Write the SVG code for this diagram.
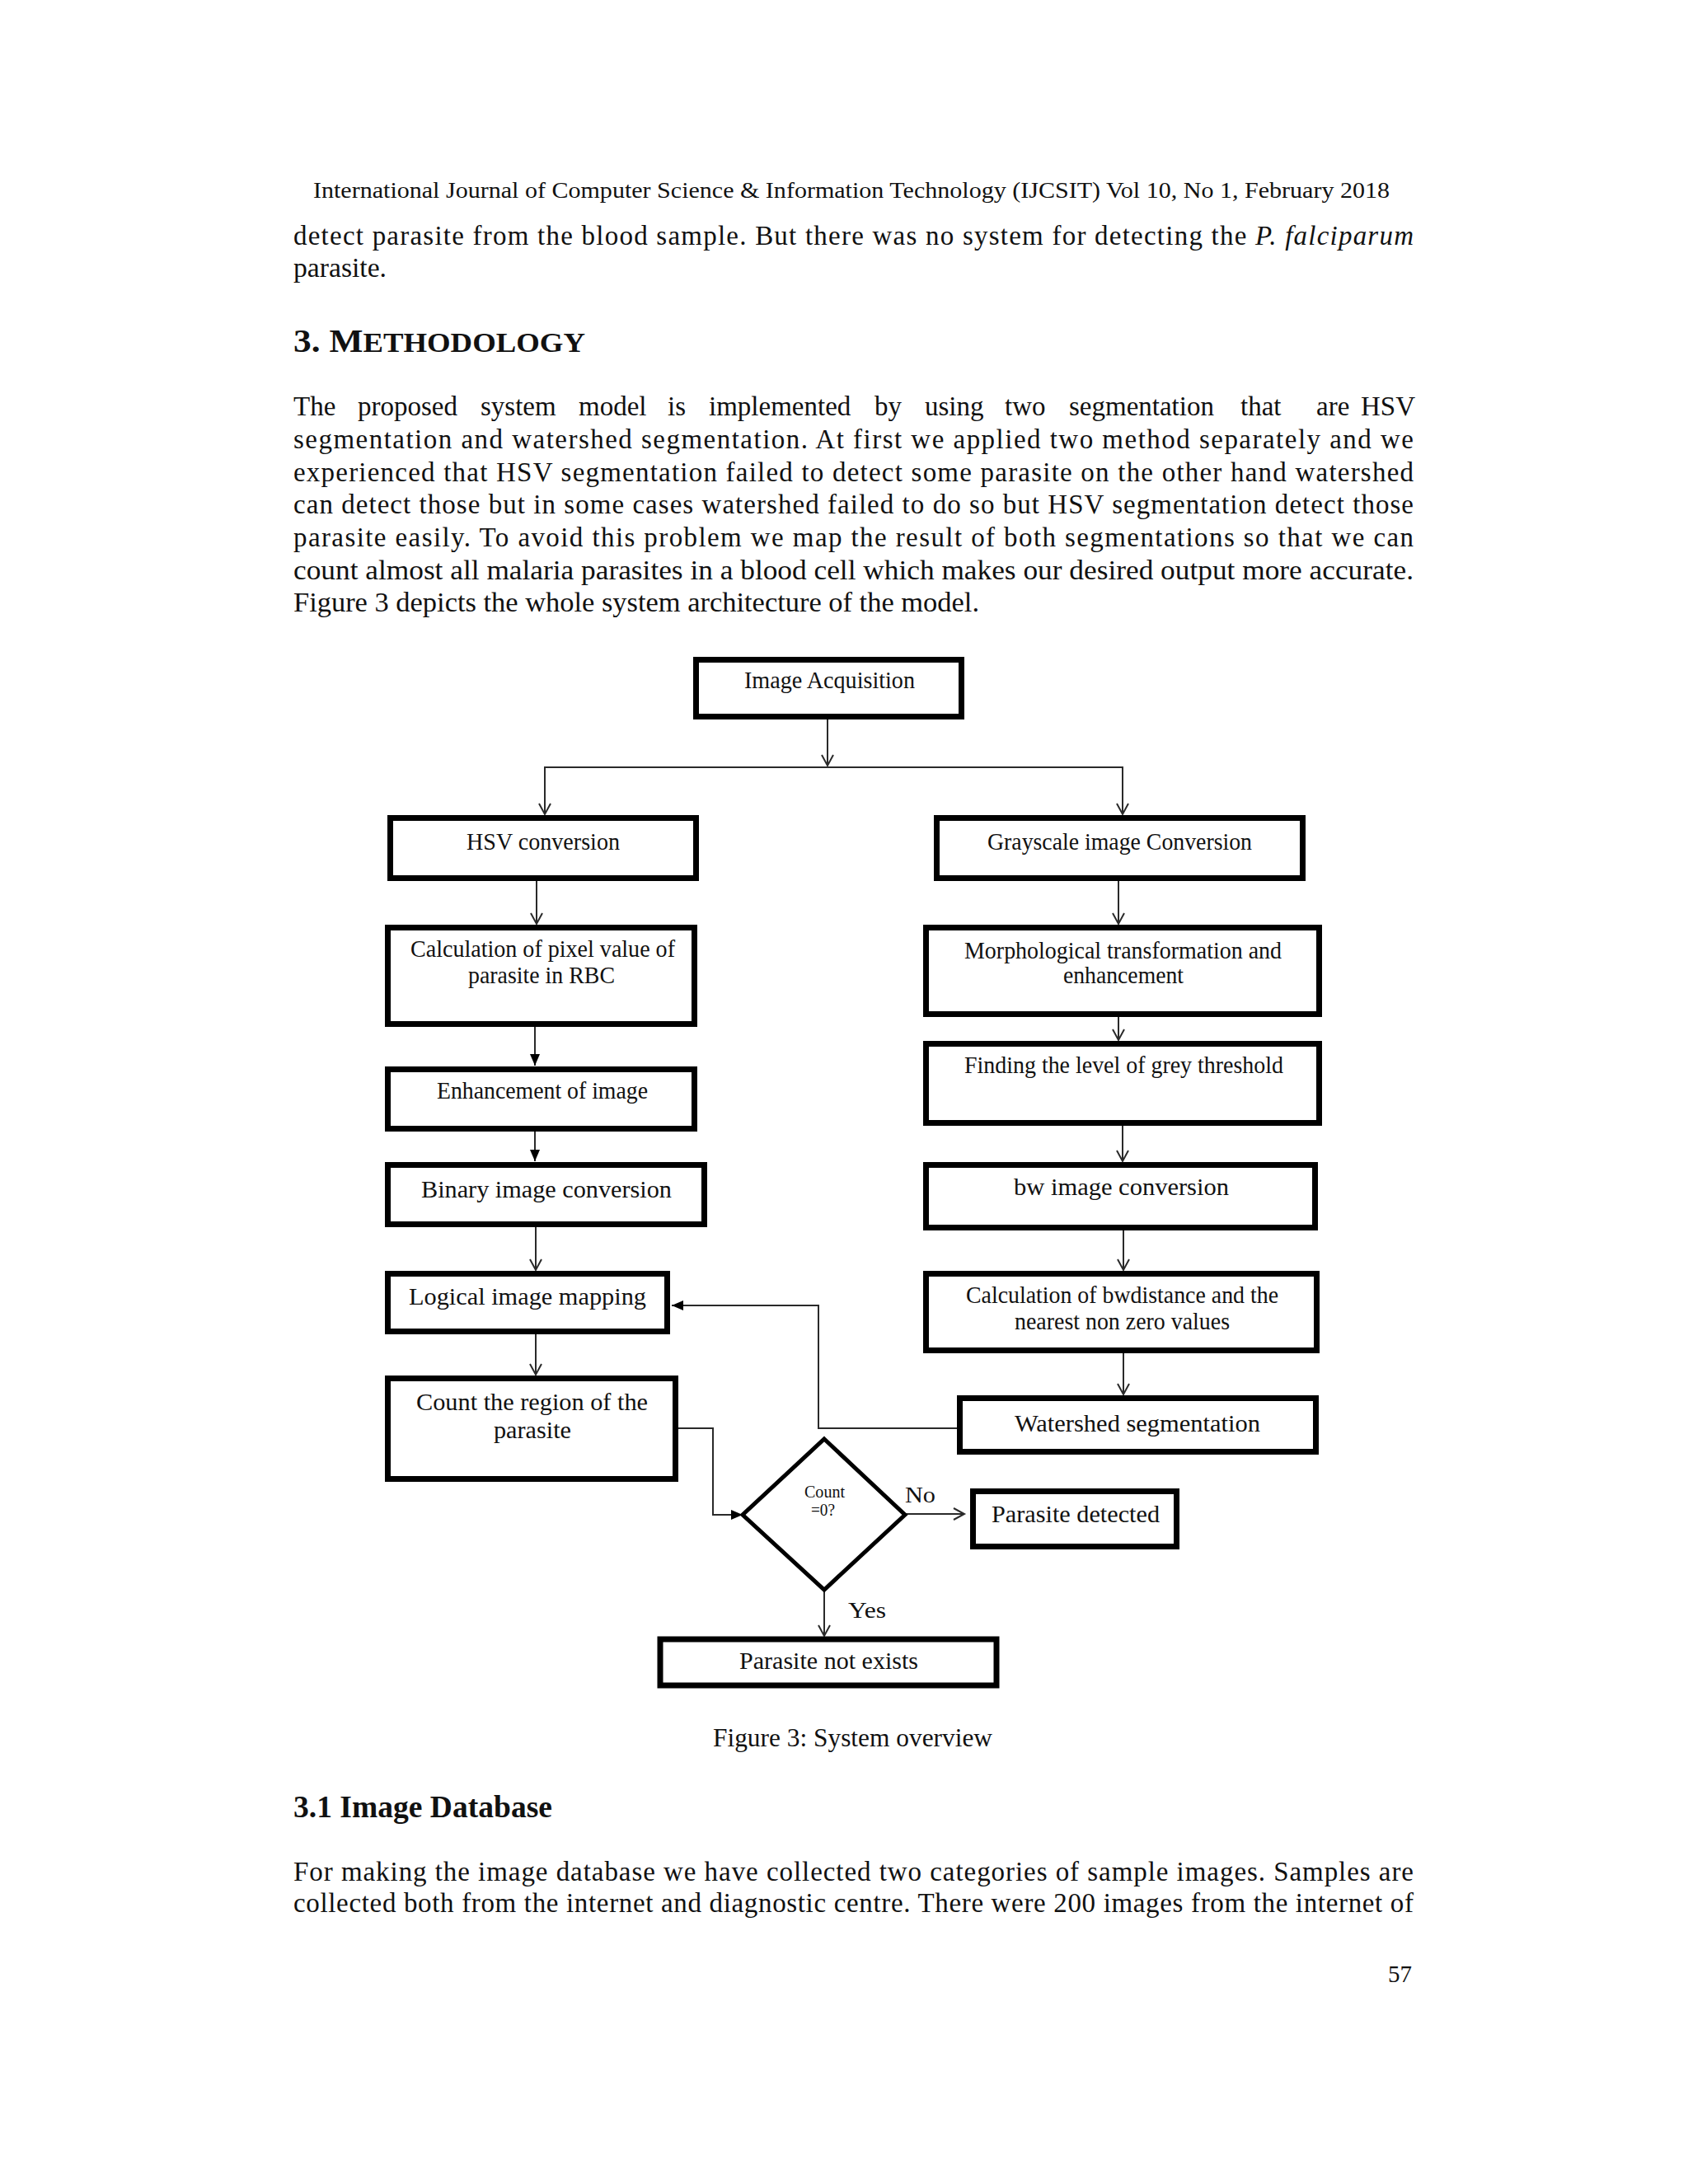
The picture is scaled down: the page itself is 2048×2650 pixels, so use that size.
<svg xmlns="http://www.w3.org/2000/svg" width="2048" height="2650" viewBox="0 0 2048 2650">
<style>
.pg{font-family:"Liberation Serif","Times New Roman",serif;fill:#111;}
.lb{font-family:"Liberation Serif","Times New Roman",serif;fill:#111;}
.box{fill:#fff;stroke:#000;stroke-width:7;}
.dia{fill:#fff;stroke:#000;stroke-width:5;}
.cn{fill:none;stroke:#2a2a2a;stroke-width:2;}
</style>
<defs>
<marker id="open" markerUnits="userSpaceOnUse" viewBox="0 0 16 16" markerWidth="16" markerHeight="16" refX="14" refY="8" orient="auto" overflow="visible">
<path d="M1,1 L14,8 L1,15" fill="none" stroke="#2a2a2a" stroke-width="2"/>
</marker>
<marker id="fill" markerUnits="userSpaceOnUse" viewBox="0 0 16 16" markerWidth="16" markerHeight="16" refX="14" refY="8" orient="auto" overflow="visible">
<path d="M0,2 L14,8 L0,14 z" fill="#000"/>
</marker>
</defs>
<rect x="0" y="0" width="2048" height="2650" fill="#fff"/>

<g id="page-text">
<text class="pg" x="380" y="240" font-size="27" textLength="1306" lengthAdjust="spacingAndGlyphs">International Journal of Computer Science &amp; Information Technology (IJCSIT) Vol 10, No 1, February 2018</text>
<text class="pg" x="356" y="297" font-size="33" textLength="1359" lengthAdjust="spacing">detect parasite from the blood sample. But there was no system for detecting the <tspan font-style="italic">P. falciparum</tspan></text>
<text class="pg" x="356" y="336" font-size="33" textLength="113" lengthAdjust="spacingAndGlyphs">parasite.</text>
<text class="pg" x="356" y="427" font-weight="bold" textLength="354" lengthAdjust="spacingAndGlyphs"><tspan font-size="39">3. M</tspan><tspan font-size="33">ETHODOLOGY</tspan></text>
<text class="pg" y="504" font-size="33"><tspan x="356">The</tspan><tspan x="434">proposed</tspan><tspan x="583">system</tspan><tspan x="702">model</tspan><tspan x="810">is</tspan><tspan x="860">implemented</tspan><tspan x="1061">by</tspan><tspan x="1122">using</tspan><tspan x="1219">two</tspan><tspan x="1297">segmentation</tspan><tspan x="1505">that</tspan><tspan x="1597">are</tspan><tspan x="1651">HSV</tspan></text>
<text class="pg" x="356" y="544" font-size="33" textLength="1359" lengthAdjust="spacing">segmentation and watershed segmentation. At first we applied two method separately and we</text>
<text class="pg" x="356" y="584" font-size="33" textLength="1359" lengthAdjust="spacing">experienced that HSV segmentation failed to detect some parasite on the other hand watershed</text>
<text class="pg" x="356" y="623" font-size="33" textLength="1359" lengthAdjust="spacing">can detect those but in some cases watershed failed to do so but HSV segmentation detect those</text>
<text class="pg" x="356" y="663" font-size="33" textLength="1359" lengthAdjust="spacing">parasite easily. To avoid this problem we map the result of both segmentations so that we can</text>
<text class="pg" x="356" y="703" font-size="33" textLength="1359" lengthAdjust="spacingAndGlyphs">count almost all malaria parasites in a blood cell which makes our desired output more accurate.</text>
<text class="pg" x="356" y="742" font-size="33" textLength="832" lengthAdjust="spacingAndGlyphs">Figure 3 depicts the whole system architecture of the model.</text>
<text class="pg" x="865" y="2119" font-size="31" textLength="339" lengthAdjust="spacingAndGlyphs">Figure 3: System overview</text>
<text class="pg" x="356" y="2205" font-size="37" font-weight="bold" textLength="314" lengthAdjust="spacingAndGlyphs">3.1 Image Database</text>
<text class="pg" x="356" y="2282" font-size="33" textLength="1359" lengthAdjust="spacing">For making the image database we have collected two categories of sample images. Samples are</text>
<text class="pg" x="356" y="2320" font-size="33" textLength="1359" lengthAdjust="spacing">collected both from the internet and diagnostic centre. There were 200 images from the internet of</text>
<text class="pg" x="1684" y="2405" font-size="30" textLength="29" lengthAdjust="spacingAndGlyphs">57</text>
</g>

<g id="connectors">
<line class="cn" x1="1004" y1="873" x2="1004" y2="929" marker-end="url(#open)"/>
<line class="cn" x1="660" y1="931" x2="1363" y2="931" stroke-width="3"/>
<line class="cn" x1="661" y1="931" x2="661" y2="988" marker-end="url(#open)"/>
<line class="cn" x1="1362" y1="931" x2="1362" y2="988" marker-end="url(#open)"/>
<line class="cn" x1="651" y1="1069" x2="651" y2="1121" marker-end="url(#open)"/>
<line class="cn" x1="649" y1="1246" x2="649" y2="1293" marker-end="url(#fill)"/>
<line class="cn" x1="649" y1="1373" x2="649" y2="1409" marker-end="url(#fill)"/>
<line class="cn" x1="650" y1="1489" x2="650" y2="1541" marker-end="url(#open)"/>
<line class="cn" x1="650" y1="1619" x2="650" y2="1668" marker-end="url(#open)"/>
<line class="cn" x1="1357" y1="1069" x2="1357" y2="1121" marker-end="url(#open)"/>
<line class="cn" x1="1357" y1="1234" x2="1357" y2="1262" marker-end="url(#open)"/>
<line class="cn" x1="1362" y1="1366" x2="1362" y2="1409" marker-end="url(#open)"/>
<line class="cn" x1="1363" y1="1493" x2="1363" y2="1541" marker-end="url(#open)"/>
<line class="cn" x1="1363" y1="1642" x2="1363" y2="1692" marker-end="url(#open)"/>
<polyline class="cn" points="1161,1733 993,1733 993,1584 815,1584" marker-end="url(#fill)"/>
<polyline class="cn" points="823,1733 865,1733 865,1838 901,1838" marker-end="url(#fill)"/>
<line class="cn" x1="1098" y1="1837" x2="1170" y2="1837" marker-end="url(#open)"/>
<line class="cn" x1="1000" y1="1929" x2="1000" y2="1985" marker-end="url(#open)"/>
<text class="lb" x="1098" y="1823" font-size="28" textLength="37" lengthAdjust="spacingAndGlyphs">No</text>
<text class="lb" x="1029" y="1963" font-size="28" textLength="46" lengthAdjust="spacingAndGlyphs">Yes</text>
</g>

<g id="n-acq"><rect class="box" x="844.5" y="800.5" width="322" height="69"/>
<text class="lb" x="903" y="835" font-size="29" textLength="207" lengthAdjust="spacingAndGlyphs">Image Acquisition</text></g>

<g id="n-hsv"><rect class="box" x="473.5" y="992.5" width="371" height="73"/>
<text class="lb" x="566" y="1031" font-size="29" textLength="186" lengthAdjust="spacingAndGlyphs">HSV conversion</text></g>

<g id="n-gray"><rect class="box" x="1136.5" y="992.5" width="444" height="73"/>
<text class="lb" x="1198" y="1031" font-size="29" textLength="321" lengthAdjust="spacingAndGlyphs">Grayscale image Conversion</text></g>

<g id="n-calcpix"><rect class="box" x="470.5" y="1125.5" width="372" height="117"/>
<text class="lb" x="498" y="1161" font-size="29" textLength="321" lengthAdjust="spacingAndGlyphs">Calculation of pixel value of</text>
<text class="lb" x="568" y="1193" font-size="29" textLength="178" lengthAdjust="spacingAndGlyphs">parasite in RBC</text></g>

<g id="n-enh"><rect class="box" x="470.5" y="1297.5" width="372" height="72"/>
<text class="lb" x="530" y="1333" font-size="30" textLength="256" lengthAdjust="spacingAndGlyphs">Enhancement of image</text></g>

<g id="n-bin"><rect class="box" x="470.5" y="1413.5" width="384" height="72"/>
<text class="lb" x="511" y="1453" font-size="30" textLength="304" lengthAdjust="spacingAndGlyphs">Binary image conversion</text></g>

<g id="n-logical"><rect class="box" x="470.5" y="1545.5" width="339" height="70"/>
<text class="lb" x="496" y="1583" font-size="30" textLength="288" lengthAdjust="spacingAndGlyphs">Logical image mapping</text></g>

<g id="n-count"><rect class="box" x="470.5" y="1672.5" width="349" height="122"/>
<text class="lb" x="505" y="1711" font-size="30" textLength="281" lengthAdjust="spacingAndGlyphs">Count the region of the</text>
<text class="lb" x="599" y="1745" font-size="30" textLength="94" lengthAdjust="spacingAndGlyphs">parasite</text></g>

<g id="n-morph"><rect class="box" x="1123.5" y="1125.5" width="477" height="105"/>
<text class="lb" x="1170" y="1163" font-size="29" textLength="385" lengthAdjust="spacingAndGlyphs">Morphological transformation and</text>
<text class="lb" x="1290" y="1193" font-size="29" textLength="146" lengthAdjust="spacingAndGlyphs">enhancement</text></g>

<g id="n-finding"><rect class="box" x="1123.5" y="1266.5" width="477" height="96"/>
<text class="lb" x="1170" y="1302" font-size="29" textLength="387" lengthAdjust="spacingAndGlyphs">Finding the level of grey threshold</text></g>

<g id="n-bw"><rect class="box" x="1123.5" y="1413.5" width="472" height="76"/>
<text class="lb" x="1230" y="1450" font-size="30" textLength="261" lengthAdjust="spacingAndGlyphs">bw image conversion</text></g>

<g id="n-bwdist"><rect class="box" x="1123.5" y="1545.5" width="474" height="93"/>
<text class="lb" x="1172" y="1581" font-size="29" textLength="379" lengthAdjust="spacingAndGlyphs">Calculation of bwdistance and the</text>
<text class="lb" x="1231" y="1613" font-size="29" textLength="261" lengthAdjust="spacingAndGlyphs">nearest non zero values</text></g>

<g id="n-watershed"><rect class="box" x="1164.5" y="1696.5" width="432" height="65"/>
<text class="lb" x="1231" y="1737" font-size="30" textLength="298" lengthAdjust="spacingAndGlyphs">Watershed segmentation</text></g>

<g id="n-decision"><polygon class="dia" points="1000,1746 1098,1838 1000,1929 901,1838"/>
<text class="lb" x="976" y="1817" font-size="20" textLength="49" lengthAdjust="spacingAndGlyphs">Count</text>
<text class="lb" x="984" y="1839" font-size="20" textLength="29" lengthAdjust="spacingAndGlyphs">=0?</text></g>

<g id="n-detected"><rect class="box" x="1180.5" y="1809.5" width="247" height="67"/>
<text class="lb" x="1203" y="1847" font-size="29" textLength="204" lengthAdjust="spacingAndGlyphs">Parasite detected</text></g>

<g id="n-notexists"><rect class="box" x="801" y="1989" width="408" height="56" stroke-width="6"/>
<text class="lb" x="897" y="2025" font-size="29" textLength="217" lengthAdjust="spacingAndGlyphs">Parasite not exists</text></g>
</svg>
